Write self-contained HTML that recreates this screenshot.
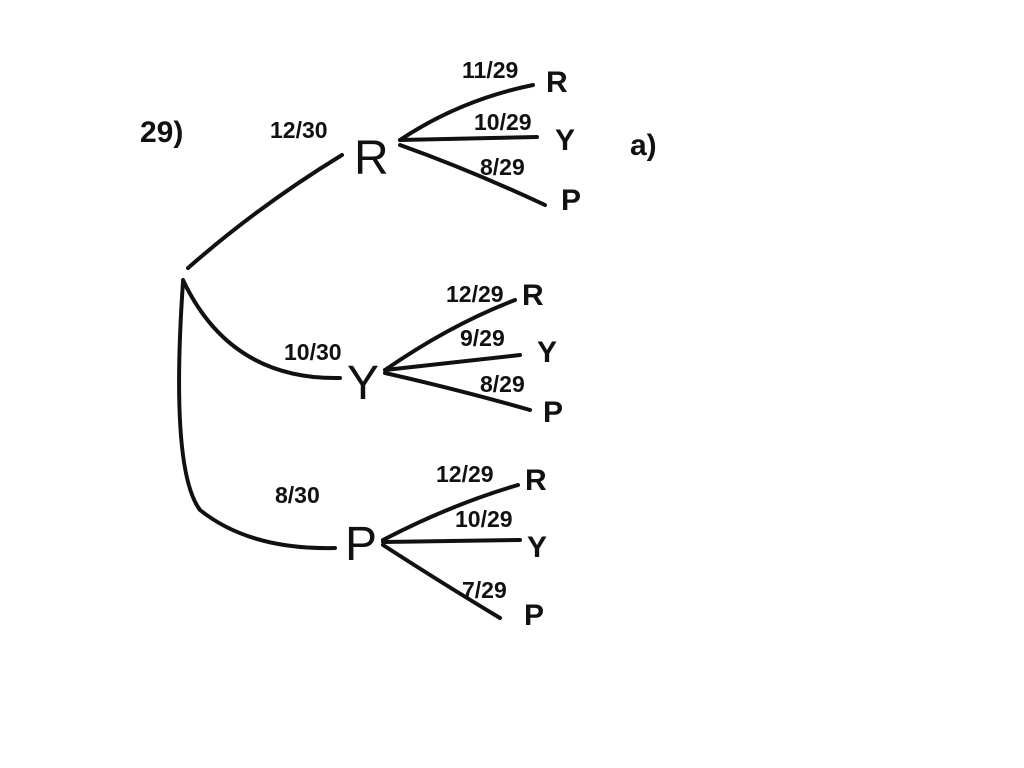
<!DOCTYPE html>
<html><head><meta charset="utf-8"><style>
html,body{margin:0;padding:0;background:#fff;width:1024px;height:768px;overflow:hidden}
svg{display:block}
text{font-family:"Liberation Sans",sans-serif;fill:#111}
.l{stroke:#111;stroke-width:4;fill:none;stroke-linecap:round}
.s{font-size:23px;font-weight:bold}
.n{font-size:48px}
.m{font-size:30px;font-weight:bold}
</style></head><body>
<svg width="1024" height="768" viewBox="0 0 1024 768">
<rect width="1024" height="768" fill="#fff"/>
<text x="140" y="142" class="m">29)</text>
<text x="630" y="155" class="m">a)</text>
<path class="l" d="M188 268 Q260 205 342 155"/>
<path class="l" d="M183 280 Q230 380 340 378"/>
<path class="l" d="M183 282 Q170 470 200 510 Q250 550 335 548"/>
<text x="270" y="138" class="s">12/30</text>
<text x="284" y="360" class="s">10/30</text>
<text x="275" y="503" class="s">8/30</text>
<text x="354" y="174" class="n">R</text>
<text x="347" y="399" class="n">Y</text>
<text x="345" y="560" class="n">P</text>
<path class="l" d="M400 140 Q460 100 533 85"/>
<path class="l" d="M400 140 L537 137"/>
<path class="l" d="M400 145 Q470 170 545 205"/>
<text x="462" y="78" class="s">11/29</text>
<text x="474" y="130" class="s">10/29</text>
<text x="480" y="175" class="s">8/29</text>
<text x="546" y="92" class="m">R</text>
<text x="555" y="150" class="m">Y</text>
<text x="561" y="210" class="m">P</text>
<path class="l" d="M385 370 Q450 325 515 300"/>
<path class="l" d="M385 370 L520 355"/>
<path class="l" d="M385 373 Q460 390 530 410"/>
<text x="446" y="302" class="s">12/29</text>
<text x="460" y="346" class="s">9/29</text>
<text x="480" y="392" class="s">8/29</text>
<text x="522" y="305" class="m">R</text>
<text x="537" y="362" class="m">Y</text>
<text x="543" y="422" class="m">P</text>
<path class="l" d="M383 540 Q450 505 518 485"/>
<path class="l" d="M383 542 L520 540"/>
<path class="l" d="M383 545 Q445 585 500 618"/>
<text x="436" y="482" class="s">12/29</text>
<text x="455" y="527" class="s">10/29</text>
<text x="462" y="598" class="s">7/29</text>
<text x="525" y="490" class="m">R</text>
<text x="527" y="557" class="m">Y</text>
<text x="524" y="625" class="m">P</text>
</svg>
</body></html>
